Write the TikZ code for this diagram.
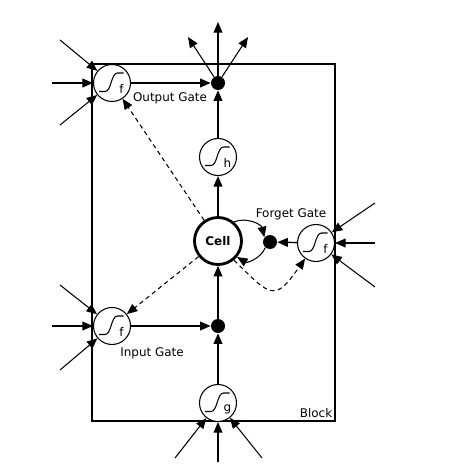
\documentclass[tikz,border=0pt]{standalone}
\usepackage{fontspec}
\setmainfont{DejaVu Sans}
\usetikzlibrary{arrows.meta}
\tikzset{
    gate/.style = {circle, draw=black, semithick, fill=white, minimum size=0.74cm, inner sep=0pt,
        path picture={
            \draw[semithick] ([shift={(-0.26,-0.17)}]path picture bounding box.center) -- ++(0.12,0)
                .. controls +(0.13,0) and +(-0.13,0) .. ++(0.25,0.37) -- ++(0.12,0);
            \node[font=\fontsize{6.8}{8}\selectfont, inner sep=0pt] at ([shift={(0.19,-0.12)}]path picture bounding box.center) {#1};
        }},
    cell/.style = {circle, ultra thick, draw=black, fill=white, minimum size=0.94cm, inner sep=0pt, font=\fontsize{6.8}{8}\bfseries\selectfont},
    dot/.style = {circle, fill=black, minimum size=0.28cm, inner sep=0pt},
    lbl/.style = {font=\fontsize{6.8}{8}\selectfont, inner sep=0pt},
    edgen/.style = {-{Triangle[length=6pt,width=5pt]}, thick},
    edgei/.style = {-{Triangle[length=6pt,width=5pt]}, semithick},
    edgep/.style = {-{Triangle[length=6pt,width=5pt]}, semithick, dashed, dash pattern=on 2.5pt off 2pt},
}
\begin{document}
\begin{tikzpicture}
\useasboundingbox (0,0) rectangle (9.48,-9.48);
%
\draw[thick] (1.84,-1.28) rectangle (6.70,-8.42);
%
\node[gate=f] at (2.24,-1.66) (outg) {};
\node[dot] at (4.36,-1.66) (outdot) {};
\node[gate=h] at (4.36,-3.14) (h) {};
\node[cell] at (4.36,-4.82) (cell) {Cell};
\node[dot] at (5.40,-4.84) (fdot) {};
\node[gate=f] at (6.32,-4.86) (fg) {};
\node[gate=f] at (2.24,-6.52) (ing) {};
\node[dot] at (4.36,-6.52) (indot) {};
\node[gate=g] at (4.36,-8.06) (g) {};
%
\node[lbl] at (3.40,-1.96) (outlbl) {Output Gate};
\node[lbl] at (5.82,-4.28) (forlbl) {Forget Gate};
\node[lbl] at (3.04,-7.06) (inlbl) {Input Gate};
\node[lbl] at (6.32,-8.26) (blocklbl) {Block};
%
\coordinate (o1) at (3.76,-0.74);
\coordinate (o2) at (4.36,-0.44);
\coordinate (o3) at (4.96,-0.74);
\coordinate (a1) at (1.20,-0.80);
\coordinate (a2) at (1.04,-1.66);
\coordinate (a3) at (1.20,-2.50);
\coordinate (b1) at (1.20,-5.70);
\coordinate (b2) at (1.04,-6.52);
\coordinate (b3) at (1.20,-7.40);
\coordinate (c1) at (7.50,-4.06);
\coordinate (c2) at (7.50,-4.86);
\coordinate (c3) at (7.50,-5.74);
\coordinate (d1) at (3.50,-9.16);
\coordinate (d2) at (4.36,-9.24);
\coordinate (d3) at (5.24,-9.16);
%
\draw[edgen] (outg) -- (outdot);
\draw[edgen] (h) -- (outdot);
\draw[edgen] (cell) -- (h);
\draw[edgen] (indot) -- (cell);
\draw[edgen] (g) -- (indot);
\draw[edgen] (ing) -- (indot);
\draw[edgen] (fg) -- (fdot);
\draw[edgei] (cell.50) to[bend left=50] (fdot.140);
\draw[edgei] (fdot.-130) to[bend left=50] (cell.-40);
%
\draw[edgei] (outdot) -- (o1);
\draw[edgei] (outdot) -- (o2);
\draw[edgei] (outdot) -- (o3);
\draw[edgei] (a1) -- (outg);
\draw[edgei] (a2) -- (outg);
\draw[edgei] (a3) -- (outg);
\draw[edgei] (b1) -- (ing);
\draw[edgei] (b2) -- (ing);
\draw[edgei] (b3) -- (ing);
\draw[edgei] (c1) -- (fg);
\draw[edgei] (c2) -- (fg);
\draw[edgei] (c3) -- (fg);
\draw[edgei] (d1) -- (g);
\draw[edgei] (d2) -- (g);
\draw[edgei] (d3) -- (g);
%
\draw[edgep] (cell) -- (outg);
\draw[edgep] (cell) -- (ing);
\draw[edgep] (cell.-50) to[out=-45, in=-125, looseness=1.9] (fg.-125);

\end{tikzpicture}
\end{document}
